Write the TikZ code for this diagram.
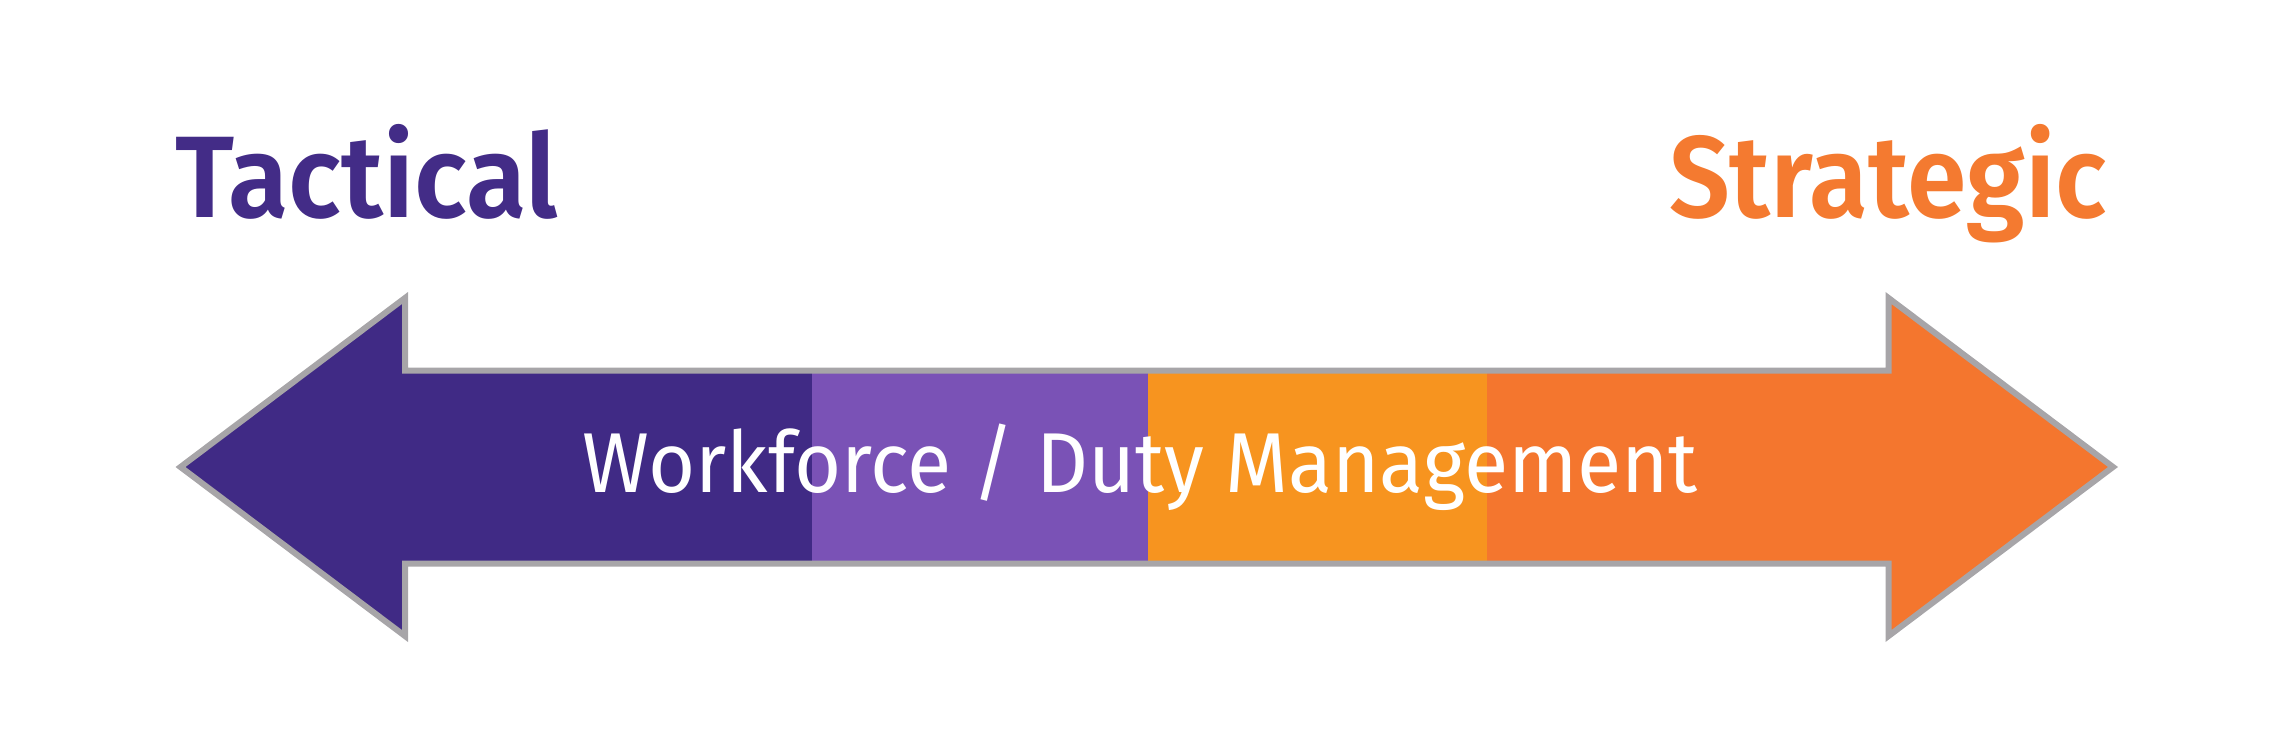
\documentclass[tikz,border=0pt]{standalone}
\usepackage{fontspec}
\setmainfont{Fira Sans}
\newfontfamily\titlefont{Fira Sans SemiBold}
\usepackage{graphicx}
\definecolor{dpurple}{HTML}{402A85}
\definecolor{mpurple}{HTML}{7A52B6}
\definecolor{lorange}{HTML}{F7941F}
\definecolor{dorange}{HTML}{F4762E}
\definecolor{outline}{HTML}{A7A5A8}
\definecolor{titlepurple}{HTML}{432C87}
\definecolor{titleorange}{HTML}{F47A30}
\tikzset{
  rim/.style={draw=outline, line width=6pt, line join=miter},
  title/.style={anchor=base west, inner sep=0pt, outer sep=0pt},
  label/.style={anchor=base west, inner sep=0pt, outer sep=0pt, text=white}
}
\begin{document}
\begin{tikzpicture}[x=1pt,y=-1pt]
\useasboundingbox (0,0) rectangle (2276,742);
% arrow outline corners
\coordinate (tl) at (180.5,467);
\coordinate (lht) at (405,298);
\coordinate (lst) at (405,370.5);
\coordinate (rst) at (1888.5,370.5);
\coordinate (rht) at (1888.5,298);
\coordinate (tr) at (2113,467);
\coordinate (rhb) at (1888.5,636);
\coordinate (rsb) at (1888.5,563.5);
\coordinate (lsb) at (405,563.5);
\coordinate (lhb) at (405,636);
\begin{scope}
  \clip (tl) -- (lht) -- (lst) -- (rst) -- (rht) -- (tr) -- (rhb) -- (rsb) -- (lsb) -- (lhb) -- cycle;
  \fill[dpurple] (0,0) rectangle (812,742);
  \fill[mpurple] (812,0) rectangle (1148,742);
  \fill[lorange] (1148,0) rectangle (1487,742);
  \fill[dorange] (1487,0) rectangle (2276,742);
\end{scope}
\draw[rim] (tl) -- (lht) -- (lst) -- (rst) -- (rht) -- (tr) -- (rhb) -- (rsb) -- (lsb) -- (lhb) -- cycle;
% texts
\node[label] (band) at (582,492.7) {\resizebox{1116pt}{\height}{\fontsize{85}{85}\selectfont Workforce / Duty Management}};
\node[title, text=titlepurple] (tactical) at (175,217) {\resizebox{383pt}{\height}{\fontsize{116}{116}\titlefont Tactical}};
\node[title, text=titleorange] (strategic) at (1669,217) {\resizebox{438pt}{\height}{\fontsize{116}{116}\titlefont Strategic}};
\end{tikzpicture}
\end{document}
